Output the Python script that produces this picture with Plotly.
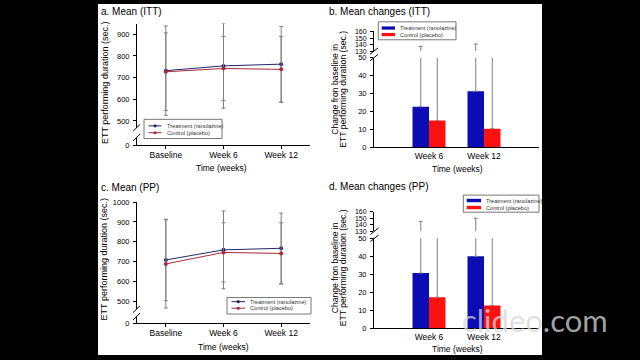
import plotly.graph_objects as go

W, H = 640, 360
def X(px): return px / W
def Y(py): return 1 - py / H

FONT = "Liberation Sans, Arial, sans-serif"

# ---------------- data ----------------
weeks_line = ["Baseline", "Week 6", "Week 12"]
weeks_bar = ["Week 6", "Week 12"]

itt_treat_mean = [732, 754, 762]
itt_treat_sd = [206, 195, 174]
itt_ctrl_mean = [727, 742, 738]
itt_ctrl_sd = [179, 148, 152]

pp_treat_mean = [708, 759, 767]
pp_treat_sd = [206, 197, 178]
pp_ctrl_mean = [688, 746, 741]
pp_ctrl_sd = [223, 150, 155]

itt_treat_change = [22.6, 31.3]
itt_treat_change_err = [114.5, 109.5]
itt_ctrl_change = [14.9, 10.4]
itt_ctrl_change_err = [95, 95]

pp_treat_change = [30.7, 40.0]
pp_treat_change_err = [114.5, 110.0]
pp_ctrl_change = [17.3, 12.7]
pp_ctrl_change_err = [95, 95]

names = ["Treatment (ranolazine)", "Control (placebo)"]

# ---------------- styles ----------------
NAVY = "#26266e"
DRED = "#a52a3c"
BLUE = "#0c0cb4"
RED = "#ff1010"
ERR = "#808080"

fig = go.Figure()

def line_trace(xa, ya, y, sd, color, name):
    return go.Scatter(x=weeks_line, y=y, xaxis=xa, yaxis=ya, mode="lines+markers",
                      line=dict(color=color, width=1), marker=dict(color=color, size=4),
                      error_y=dict(type="data", array=sd, color=ERR, thickness=1, width=2),
                      name=name, showlegend=False)

def bar_trace(xa, ya, y, err, color, name):
    return go.Bar(x=weeks_bar, y=y, xaxis=xa, yaxis=ya,
                  marker=dict(color=color, line=dict(width=0)),
                  error_y=dict(type="data", symmetric=False, array=err,
                               arrayminus=[0] * len(err), color=ERR, thickness=1, width=2),
                  name=name, showlegend=False)

# panel a (upper and lower segments of the broken axis)
for ya in ["y2", "y"]:
    fig.add_trace(line_trace("x", ya, itt_treat_mean, itt_treat_sd, NAVY, names[0]))
    fig.add_trace(line_trace("x", ya, itt_ctrl_mean, itt_ctrl_sd, DRED, names[1]))
# panel b
for ya in ["y4", "y3"]:
    fig.add_trace(bar_trace("x3", ya, itt_treat_change, itt_treat_change_err, BLUE, names[0]))
    fig.add_trace(bar_trace("x3", ya, itt_ctrl_change, itt_ctrl_change_err, RED, names[1]))
# panel c
for ya in ["y6", "y5"]:
    fig.add_trace(line_trace("x5", ya, pp_treat_mean, pp_treat_sd, NAVY, names[0]))
    fig.add_trace(line_trace("x5", ya, pp_ctrl_mean, pp_ctrl_sd, DRED, names[1]))
# panel d
for ya in ["y8", "y7"]:
    fig.add_trace(bar_trace("x7", ya, pp_treat_change, pp_treat_change_err, BLUE, names[0]))
    fig.add_trace(bar_trace("x7", ya, pp_ctrl_change, pp_ctrl_change_err, RED, names[1]))

ax = dict(showline=True, linecolor="black", linewidth=1, showgrid=False, zeroline=False,
          ticks="outside", ticklen=3, tickcolor="black", tickwidth=1,
          tickfont=dict(size=7.5, color="black", family=FONT), ticklabelstandoff=2)

def xcat(domain, anchor, cats, rng, ticks=True):
    d = dict(ax)
    d.update(domain=domain, anchor=anchor, type="category", categoryorder="array",
             categoryarray=cats, range=rng, tickfont=dict(size=8.5, color="black", family=FONT),
             ticklabelstandoff=-2)
    if not ticks:
        d.update(ticks="", ticklabelstandoff=0)
    return d

def yax(domain, anchor, rng, tickvals, size=7.5):
    d = dict(ax)
    d.update(domain=domain, anchor=anchor, range=rng, tickvals=tickvals,
             tickfont=dict(size=size, color="black", family=FONT))
    return d

layout = dict(
    width=W, height=H, margin=dict(l=0, r=0, t=0, b=0),
    paper_bgcolor="black", plot_bgcolor="rgba(0,0,0,0)",
    font=dict(family=FONT, color="black"),
    barmode="group", bargap=0.4, bargroupgap=0,
    showlegend=False,
    # panel a
    xaxis=xcat([X(137), X(310)], "y2", weeks_line, [-0.5, 2.5]),
    yaxis=yax([Y(127), Y(20)], "x", [468.5, 949.4], [500, 600, 700, 800, 900]),
    yaxis2=yax([Y(145), Y(137)], "x", [0, 10], [0]),
    # panel b
    xaxis3=xcat([X(374), X(539)], "y4", weeks_bar, [-1, 2], ticks=False),
    yaxis3=yax([Y(48.3), Y(28)], "x3", [130, 160.45], [130, 140, 150, 160], size=7),
    yaxis4=yax([Y(147), Y(55)], "x3", [0, 50], [0, 10, 20, 30, 40, 50]),
    # panel c
    xaxis5=xcat([X(137), X(310)], "y6", weeks_line, [-0.5, 2.5]),
    yaxis5=yax([Y(313), Y(202.7)], "x5", [459, 1003], [500, 600, 700, 800, 900, 1000]),
    yaxis6=yax([Y(327.5), Y(320.5)], "x5", [0, 10], [0]),
    # panel d
    xaxis7=xcat([X(374), X(539)], "y8", weeks_bar, [-1, 2], ticks=False),
    yaxis7=yax([Y(233), Y(213)], "x7", [130, 160], [130, 140, 150, 160], size=7),
    yaxis8=yax([Y(332.7), Y(240.3)], "x7", [0, 50], [0, 10, 20, 30, 40, 50]),
)
fig.update_layout(**layout)

shapes = []
annos = []

# white page
shapes.append(dict(type="rect", xref="paper", yref="paper", x0=X(98), x1=X(542), y0=0, y1=1,
                   fillcolor="white", line=dict(width=0), layer="below"))

def slash(cx, cy, dx=3.5, dy=3.5):
    shapes.append(dict(type="line", xref="paper", yref="paper",
                       x0=X(cx - dx), y0=Y(cy + dy), x1=X(cx + dx), y1=Y(cy - dy),
                       line=dict(color="black", width=1)))

# axis breaks
slash(136.5, 127); slash(136.5, 137)
slash(374, 48.3, 4, 3.3); slash(374, 55, 4, 3.3)
slash(136.5, 313); slash(136.5, 320.5)
slash(374.5, 233, 4, 3.3); slash(374.5, 240.3, 4, 3.3)

def text(x, y, s, size, xanchor="left", angle=0, color="black", family=FONT):
    annos.append(dict(xref="paper", yref="paper", x=X(x), y=Y(y), text=s, showarrow=False,
                      xanchor=xanchor, yanchor="middle", textangle=angle,
                      font=dict(size=size, color=color, family=family)))

# panel titles
text(98.5, 8, "a. Mean (ITT)", 10)
text(327, 8, "b. Mean changes (ITT)", 10)
text(98.5, 188.5, "c. Mean (PP)", 10)
text(327, 187.5, "d. Mean changes (PP)", 10)

# axis titles
text(221, 168, "Time (weeks)", 8.5, "center")
text(457, 169, "Time (weeks)", 8.5, "center")
text(223, 352, "Time (weeks)", 8.5, "center")
text(457, 354, "Time (weeks)", 8.5, "center")
text(105, 81, "ETT performing duration (sec.)", 9, "center", -90)
text(104, 262, "ETT performing duration (sec.)", 9, "center", -90)
text(335, 88, "Change fron baseline in", 8.6, "center", -90)
text(343, 88, "ETT performing duration (sec.)", 8.6, "center", -90)
text(335, 271, "Change fron baseline in", 8.6, "center", -90)
text(343, 271, "ETT performing duration (sec.)", 8.6, "center", -90)

# manual legends
LEGC = "#333333"
def legbox(x0, x1, y0, y1):
    shapes.append(dict(type="rect", xref="paper", yref="paper", x0=X(x0), x1=X(x1), y0=Y(y1), y1=Y(y0),
                       fillcolor="white", line=dict(color="#555555", width=0.8)))

def legline(x0, x1, y, color, label):
    shapes.append(dict(type="line", xref="paper", yref="paper", x0=X(x0), x1=X(x1), y0=Y(y), y1=Y(y),
                       line=dict(color=color, width=1)))
    c = (x0 + x1) / 2
    shapes.append(dict(type="circle", xref="paper", yref="paper", x0=X(c - 1.6), x1=X(c + 1.6),
                       y0=Y(y + 1.6), y1=Y(y - 1.6), fillcolor=color, line=dict(width=0)))
    text(x1 + 3, y, label, 5.6, color=LEGC)

def legrect(x0, x1, y0, y1, color, label, tx):
    shapes.append(dict(type="rect", xref="paper", yref="paper", x0=X(x0), x1=X(x1), y0=Y(y1), y1=Y(y0),
                       fillcolor=color, line=dict(width=0)))
    text(tx, (y0 + y1) / 2, label, 5.6, color=LEGC)

legbox(144, 222, 118.3, 138)
legline(148.5, 161.5, 125, NAVY, names[0])
legline(148.5, 161.5, 132, DRED, names[1])

legbox(378.3, 456, 18.3, 36.7)
legrect(381.7, 395, 23, 26.3, BLUE, names[0], 398)
legrect(381.7, 395, 29.7, 33, RED, names[1], 398)

legbox(227, 311, 301, 318)
legline(231.5, 245, 305.3, NAVY, names[0])
legline(231.5, 245, 312, DRED, names[1])

legbox(463.3, 539, 196, 213.5)
legrect(466.7, 481, 199.8, 203.3, BLUE, names[0], 483.5)
legrect(466.7, 481, 207, 210.5, RED, names[1], 483.5)

# watermark
annos.append(dict(xref="paper", yref="paper", x=X(460), y=Y(324), text="clideo.com", showarrow=False,
                  xanchor="left", yanchor="middle",
                  font=dict(size=31, color="rgba(215,215,215,0.75)", family="Lato, Noto Sans, sans-serif")))

fig.update_layout(shapes=shapes, annotations=annos)
fig.write_html("out.html", config={"displayModeBar": False},
               post_script="document.body.style.margin='0';document.body.style.background='black';")
